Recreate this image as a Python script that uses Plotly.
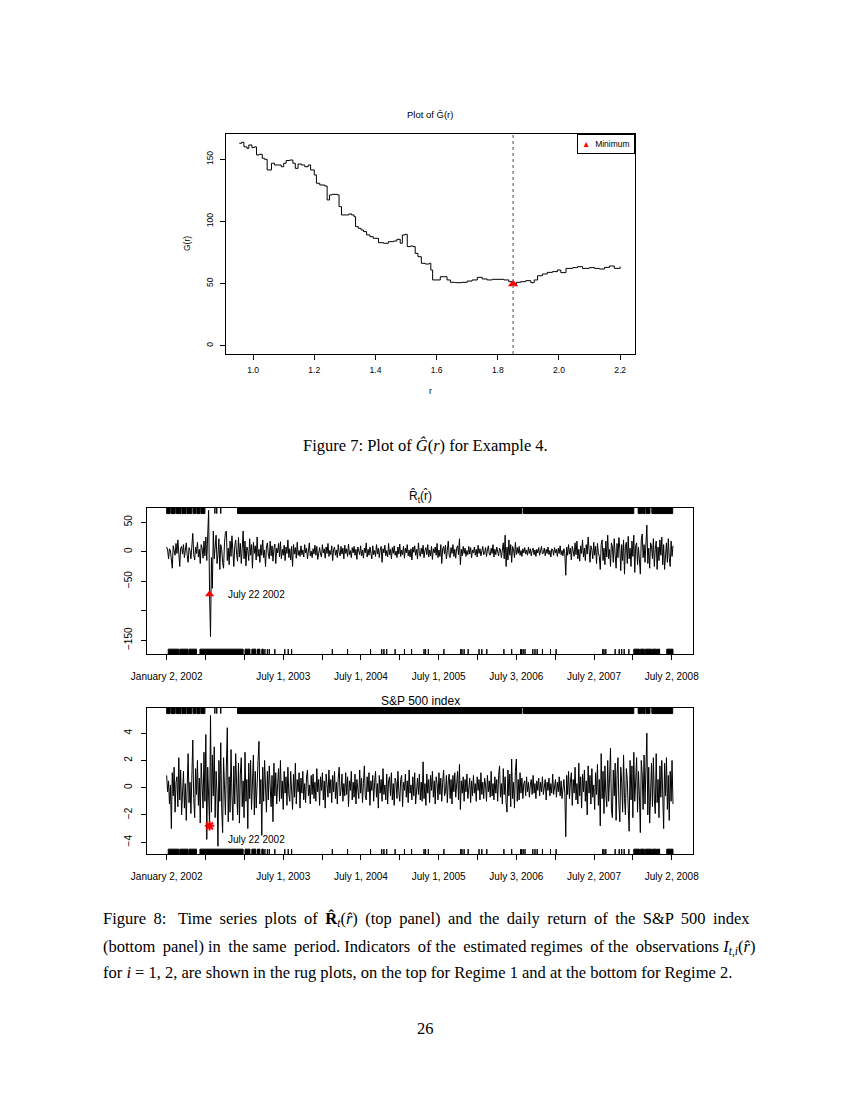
"""
Page 26 replica: plot of G-hat(r) (Figure 7) and the two regime time series (Figure 8).
"""
import plotly.graph_objects as go

PAGE_W, PAGE_H = 850, 1100

# ─── Figure 7: G-hat(r) against threshold r ──────────────────────────────
r_grid = [0.955, 0.963, 0.970, 0.980, 0.986, 0.996, 1.004, 1.011, 1.020, 1.030,
          1.037, 1.046, 1.060, 1.070, 1.081, 1.092, 1.100, 1.108, 1.120, 1.130,
          1.138, 1.147, 1.158, 1.169, 1.180, 1.188, 1.200, 1.207, 1.218, 1.234,
          1.242, 1.250, 1.258, 1.276, 1.281, 1.289, 1.305, 1.313, 1.322, 1.330,
          1.335, 1.344, 1.353, 1.361, 1.371, 1.382, 1.393, 1.410, 1.426, 1.442,
          1.459, 1.470, 1.481, 1.488, 1.497, 1.504, 1.514, 1.522, 1.530, 1.539,
          1.550, 1.563, 1.576, 1.581, 1.587, 1.601, 1.612, 1.623, 1.634, 1.645,
          1.661, 1.683, 1.700, 1.716, 1.733, 1.749, 1.765, 1.782, 1.804, 1.820,
          1.836, 1.850, 1.861, 1.875, 1.891, 1.908, 1.919, 1.930, 1.946, 1.962,
          1.979, 1.995, 2.006, 2.023, 2.045, 2.061, 2.077, 2.099, 2.116, 2.132,
          2.149, 2.165, 2.181, 2.200]
g_hat = [162.9, 163.7, 160.0, 158.8, 161.5, 159.4, 160.0, 153.5, 154.0, 150.8,
         150.0, 141.4, 146.8, 145.4, 145.4, 144.0, 146.8, 149.0, 149.4, 146.8,
         142.7, 146.2, 145.4, 144.0, 145.4, 141.4, 137.4, 130.7, 129.3, 128.5,
         117.3, 121.3, 121.8, 121.3, 111.9, 105.2, 105.2, 106.0, 105.2, 103.8,
         95.8, 94.4, 93.1, 91.8, 89.1, 87.7, 86.4, 82.9, 82.4, 83.7,
         84.2, 85.6, 82.4, 89.1, 89.6, 79.7, 80.2, 79.7, 74.3, 71.6,
         66.3, 65.7, 66.3, 60.9, 52.9, 52.9, 55.5, 55.5, 52.9, 51.0,
         50.7, 51.0, 52.0, 52.9, 55.0, 53.7, 52.9, 53.4, 53.4, 52.9,
         51.5, 49.6, 51.0, 51.5, 52.3, 50.7, 52.9, 56.3, 57.7, 59.0,
         59.6, 60.9, 58.8, 62.2, 62.8, 63.6, 62.2, 62.8, 62.2, 61.7,
         63.0, 64.1, 62.2, 63.6]
g_ticks = [1.0, 1.2, 1.4, 1.6, 1.8, 2.0, 2.2]
g_yticks = [0, 50, 100, 150]

# ─── Figure 8: one value every 3 trading days (Jan 2 2002 – Jul 2008) ────
obs_step = 3
r_hat_t = [
    8, 3, -12, 5, 2, -9, -28, 10, 4, -6, 14, -3, 20, -8, -25, 6,
    9, -4, 12, -10, 3, 15, -6, -18, 7, 2, -12, 11, 31, -5, -14, 8,
    -3, 16, -9, 4, -20, 12, 6, -11, 18, -7, 25, -15, 20, 70, -72, -144,
    -10, -62, 35, -12, 8, 28, -20, -5, 22, -30, 12, 4, -18, -28, 15, 33,
    35, -15, 6, -22, 18, -8, 27, -12, -25, 10, 20, -4, -16, 24, -9, 14,
    -20, 5, 35, -12, 18, -24, 8, 2, -15, 22, -6, 12, -28, 16, -3, 10,
    -14, 25, -8, 4, -18, 12, -6, 20, -10, 3, -25, 8, 15, -4, -12, 18,
    -7, 10, -16, 5, 13, -20, 6, -2, 14, -9, 17, -12, 4, -6, 11, -15,
    8, -3, 20, -10, 5, -14, 9, -25, 12, -4, 7, -11, 16, -6, 2, -8,
    10, -5, 3, -9, 12, -2, 6, -12, 8, 15, -7, 1, -10, 5, -4, 11,
    -6, 9, -13, 3, 7, -4, -9, 12, -2, 5, -11, 8, -3, 14, -8, 2,
    -5, 10, -15, 4, 8, -6, 3, -10, 12, -1, -7, 9, -4, 6, -12, 11,
    -3, 5, -8, 13, -5, 2, -10, 7, -2, 9, -6, 4, -13, 8, 1, -5,
    10, -7, 3, -11, 6, -2, 15, -9, 4, -6, 8, -3, -12, 10, -5, 2,
    -8, 12, -4, 6, -10, 3, 9, -18, 5, -2, 11, -7, 2, -9, 14, -5,
    4, -12, 7, -3, 10, -6, 1, -10, 8, -4, 13, -8, 3, -5, 9, -11,
    6, -2, 12, -7, 3, -9, 5, -14, 8, -1, 10, -6, 4, -12, 15, -3,
    -8, 6, -4, 11, -10, 2, 7, -5, 12, -9, 3, -7, 9, -13, 5, -2,
    8, -6, 14, -10, 3, -8, 12, -20, 5, 9, -4, 11, -12, 2, 18, -6,
    -10, 7, -3, 12, -8, 4, -11, 6, 10, -5, 22, -22, 4, -7, 9, -3,
    6, -8, 2, -5, 9, -4, 7, -10, 3, -2, 8, -6, 4, -9, 11, -3,
    5, -7, 2, 9, -5, -2, 7, -8, 3, 10, -4, -6, 6, -3, 12, -9,
    4, -5, 8, -2, -7, 6, 3, -10, 10, 15, -12, 28, -25, 8, -14, 20,
    -6, 12, -18, 9, 4, -10, 16, -5, 7, -3, 9, -6, 2, -8, 5, -2,
    7, -4, 3, -6, 8, -3, 5, -7, 2, 6, -5, 3, -8, 4, -2, 7,
    -6, 3, 9, -4, -2, 6, -7, 4, -3, 8, -5, 2, -9, 5, 3, -6,
    7, -2, 4, -8, 6, -3, 10, -5, 2, -7, 5, -3, -40, 8, -6, 12,
    -4, 6, -14, 9, 3, -8, 15, -5, 18, -12, 4, -16, 10, -3, 20, -9,
    6, -15, 12, -4, 25, -8, -18, 10, 3, -12, 16, -6, 9, -20, 14, -2,
    -8, -30, 12, 20, -15, 6, -22, 18, -9, 28, -12, 4, -25, 15, 8, -18,
    22, -6, -28, 14, -10, 24, 5, -32, 12, -15, 20, -38, 9, 16, -20, 26,
    -12, 6, -25, 18, -8, 28, -35, 10, 15, -22, 8, -14, -38, 20, 30, -10,
    12, -18, 25, 45, -20, 6, -28, 15, 10, -12, 22, -25, 4, 18, -30, 8,
    -15, 20, -6, 25, -22, 12, -30, 5, 15, -18, 22, -10, -25, 18, -8, 10,
]
sp500_ret = [
    0.9, -0.3, 0.5, -1.2, 0.2, -3.0, 1.1, -0.6, 1.5, -1.8, 0.4, 0.8, -1.4, 2.2, -0.9, 1.3,
    -2.0, 0.6, 1.2, -1.5, 0.3, -2.4, 1.0, 2.5, -1.1, 0.4, -1.9, 1.6, 3.5, -0.8, -2.2, 1.4,
    -0.5, 2.0, -1.3, 0.7, -2.6, 1.8, 0.2, -1.5, 2.6, -1.0, 3.9, -3.8, 1.5, -1.2, -2.8, 5.3,
    -1.8, 2.4, -0.6, 3.0, -2.2, 1.2, -0.4, -4.3, 2.0, -1.0, 3.3, -1.6, -3.3, 2.2, 0.5, -2.0,
    1.5, 4.4, -2.5, 0.8, -1.8, 2.8, -0.6, -2.4, 1.6, -1.2, 2.5, 0.4, -2.0, 1.8, -2.6, 1.0,
    2.2, -1.4, 0.5, -2.2, 2.6, -1.0, 0.6, -3.0, 1.8, -0.8, 2.0, -1.6, 0.3, 2.4, -2.0, 1.2,
    -1.5, 0.8, 2.0, 3.4, -1.2, 0.6, -3.5, 1.5, -1.0, 2.0, -0.5, -1.8, 1.2, -0.9, 1.6, 0.4,
    -1.4, 0.9, -2.5, 1.8, -0.6, 1.1, -1.2, 0.3, 1.4, -1.0, 2.0, -0.8, 0.5, -1.6, 1.2, -0.4,
    0.8, -1.3, 1.5, -0.5, -1.0, 1.2, 0.2, -1.6, 1.0, -0.7, 1.8, -1.2, 0.6, -0.3, 1.1, -1.5,
    0.7, -0.4, 1.2, -0.9, 0.3, -1.1, 0.8, 1.3, -0.6, 0.2, -1.2, 0.9, -0.5, 1.0, -0.8, 0.4,
    -1.0, 1.4, -0.3, 0.6, -1.3, 0.8, -0.2, 1.1, -0.9, 0.5, -1.5, 1.0, 0.2, -0.7, 1.3, -0.4,
    0.6, -1.1, 0.9, -0.3, 1.2, -0.8, 0.4, -1.2, 0.7, 1.5, -0.6, -0.2, 1.0, -1.0, 0.3, -0.6,
    1.1, -0.5, 0.8, -1.4, 0.5, -0.2, 1.2, -0.9, 0.4, -0.7, 1.0, -1.2, 0.6, 0.1, -0.8, 1.3,
    -0.4, 0.7, -1.1, 0.3, 1.6, -0.6, -0.9, 0.8, -0.3, 1.1, -1.3, 0.5, -0.2, 0.9, -1.0, 0.4,
    1.2, -0.7, 0.3, -1.5, 0.9, -0.4, 0.6, -1.0, 1.4, -0.5, 0.2, -0.9, 1.0, -1.2, 0.5, 0.8,
    -0.6, 1.1, -0.9, 0.3, -1.3, 0.7, 0.4, -0.8, 1.2, -0.3, -1.0, 0.6, 0.9, -1.4, 0.4, -0.2,
    1.0, -0.7, 0.5, -1.1, 1.3, -0.4, 0.2, -0.9, 0.8, -0.6, 1.1, -1.2, 0.3, 0.7, -0.5, 1.0,
    -0.9, 0.4, -1.0, 1.9, -0.8, 0.3, -1.3, 1.0, -0.4, 0.6, -1.1, 0.9, -0.2, 1.2, -0.7, 0.5,
    -1.2, 0.8, 0.3, -0.9, 1.1, -0.5, 0.7, -1.0, 0.4, 1.3, -0.6, -0.3, 0.9, -1.1, 0.5, 1.0,
    -0.8, 0.6, -1.2, 0.9, -0.3, 1.1, -0.7, 0.4, 1.2, -0.9, 1.7, -1.6, 0.5, -0.4, 0.8, -1.0,
    0.6, -0.3, 1.0, -0.8, 0.2, 0.7, -1.1, 0.5, -0.6, 0.9, -0.4, 0.3, -1.0, 0.8, -0.2, 0.6,
    -0.9, 1.1, -0.5, 0.4, -0.8, 0.7, 0.2, -1.0, 0.9, -0.3, 0.5, -0.7, 1.2, -0.6, 0.3, -0.9,
    0.8, -0.4, 0.6, -1.0, 0.9, 1.6, -0.7, 0.3, -1.2, 1.4, -0.5, 0.8, -1.1, -1.8, 1.3, -0.6,
    1.0, -1.4, 2.1, -0.8, 0.4, -1.5, 1.2, 2.1, -1.0, 0.6, -0.9, 1.1, -0.4, 0.7, -0.8, 0.3,
    0.5, -0.6, 0.8, -0.3, 0.4, -0.7, 0.2, 0.6, -0.5, 0.9, -0.4, 0.3, -0.8, 0.5, -0.2, 0.7,
    -0.6, 0.4, -0.3, 0.8, -0.5, 0.2, 0.6, -0.9, 0.4, -0.2, 0.7, -0.6, 0.3, -0.4, 1.0, -0.5,
    0.2, 0.6, -0.7, 0.4, -0.3, 0.8, -0.6, 0.5, -0.8, 0.3, 0.6, -0.4, -3.6, 0.9, -0.5, 1.2,
    -0.8, 0.4, 1.1, -1.3, 0.6, -0.4, 1.5, -0.9, 0.3, -1.2, 1.8, -0.6, 0.8, -1.5, 1.0, -0.3,
    1.3, -1.0, 0.5, -2.0, 1.6, -0.4, 0.9, -1.2, 1.4, -0.7, 0.2, -1.6, 1.1, -0.5, 1.7, -1.3,
    0.6, -2.8, 2.5, -0.8, 1.2, -1.9, 1.6, -0.5, -1.4, 2.0, -1.0, 0.7, 2.9, -1.6, -2.2, 1.3,
    -0.6, 1.8, -2.4, 0.9, 2.2, -1.2, -2.5, 1.5, 0.4, -1.8, 2.4, -0.8, -2.0, 1.4, 0.6, -1.5,
    -3.2, 2.0, -0.9, 1.6, -2.2, 2.6, -1.0, 0.5, 2.2, -1.8, 1.2, -0.6, -3.3, 2.0, 1.0, -1.6,
    2.4, -1.2, 0.8, 4.0, -2.0, 1.5, -2.6, 0.7, 1.8, -1.4, 2.2, -0.8, -1.9, 2.5, -1.1, 0.6,
    -2.2, 1.6, -0.7, 2.0, -1.5, -3.0, 1.8, -0.6, 2.2, -1.6, 0.9, -2.4, 1.2, -1.0, 2.0, -1.2,
]
july22_k = 46          # position of July 22 2002 in the lists above

date_tickvals = [1 + 125 * k for k in range(14)]
date_ticktext = ["January 2, 2002", "", "", "July 1, 2003", "", "July 1, 2004", "",
                 "July 1, 2005", "", "July 3, 2006", "", "July 2, 2007", "", "July 2, 2008"]

# regime indicator runs (first obs, last obs) for the rug plots
regime1_runs = [(1, 12), (15, 28), (31, 47), (50, 63), (66, 82), (86, 95), (98, 108),
                (111, 124), (156, 156), (162, 162), (175, 175), (229, 1144),
                (1149, 1504), (1518, 1529), (1532, 1540), (1543, 1556), (1562, 1629)]
regime2_runs = [(6, 40), (43, 70), (73, 97), (108, 247), (253, 269), (275, 288),
                (293, 301), (307, 312), (317, 317), (325, 325), (331, 331), (349, 349),
                (381, 381), (392, 392), (403, 403), (534, 534), (583, 583), (657, 657),
                (693, 693), (700, 700), (709, 709), (736, 736), (766, 766), (789, 789),
                (829, 829), (834, 834), (843, 843), (893, 893), (947, 947), (951, 951),
                (958, 958), (971, 971), (1006, 1006), (1015, 1015), (1031, 1031),
                (1086, 1086), (1111, 1111), (1140, 1140), (1143, 1143), (1148, 1148),
                (1154, 1154), (1179, 1179), (1186, 1186), (1193, 1193), (1210, 1210),
                (1236, 1236), (1254, 1254), (1404, 1404), (1408, 1408), (1414, 1414),
                (1444, 1444), (1457, 1457), (1465, 1465), (1473, 1473), (1488, 1488),
                (1504, 1522), (1525, 1538), (1541, 1561), (1564, 1577), (1580, 1587),
                (1610, 1630)]


def dom_x(left, right):
    return [left / PAGE_W, right / PAGE_W]


def dom_y(top, bottom):
    return [1 - bottom / PAGE_H, 1 - top / PAGE_H]


def px(x, y):
    return x / PAGE_W, 1 - y / PAGE_H


SANS = "Liberation Sans, Arial, sans-serif"
SERIF = "Liberation Serif, Times New Roman, serif"

obs_r = [1 + obs_step * k for k in range(len(r_hat_t))]
obs_sp = [1 + obs_step * k for k in range(len(sp500_ret))]
i_min = min(range(len(g_hat)), key=g_hat.__getitem__)

fig = go.Figure()

# Figure 7
fig.add_trace(go.Scatter(x=r_grid, y=g_hat, mode="lines", line_shape="hv",
                         line=dict(color="black", width=1), xaxis="x", yaxis="y"))
fig.add_trace(go.Scatter(x=[r_grid[i_min]], y=[g_hat[i_min]], mode="markers",
                         marker=dict(symbol="triangle-up", color="red", size=9),
                         xaxis="x", yaxis="y"))

# Figure 8, top and bottom panels
fig.add_trace(go.Scatter(x=obs_r, y=r_hat_t, mode="lines",
                         line=dict(color="black", width=1.0), xaxis="x2", yaxis="y2"))
fig.add_trace(go.Scatter(x=[obs_r[july22_k]], y=[r_hat_t[july22_k]], mode="markers",
                         marker=dict(symbol="triangle-up", color="red", size=8),
                         xaxis="x2", yaxis="y2"))
fig.add_trace(go.Scatter(x=obs_sp, y=sp500_ret, mode="lines",
                         line=dict(color="black", width=1.0), xaxis="x3", yaxis="y3"))
fig.add_trace(go.Scatter(x=[obs_sp[july22_k]], y=[sp500_ret[july22_k]], mode="markers",
                         marker=dict(symbol="asterisk-open", size=8, color="red",
                                     line=dict(color="red", width=2)),
                         xaxis="x3", yaxis="y3"))

shapes = [dict(type="line", xref="x", yref="y domain", x0=r_grid[i_min], x1=r_grid[i_min],
               y0=0, y1=1, line=dict(color="#777777", width=1.3, dash="dot"))]
for ax in ("2", "3"):
    for a, b in regime1_runs:
        shapes.append(dict(type="rect", xref="x" + ax, yref="y" + ax + " domain",
                           x0=a, x1=b, y0=0.96, y1=1.0, fillcolor="black",
                           line=dict(color="black", width=1)))
    for a, b in regime2_runs:
        shapes.append(dict(type="rect", xref="x" + ax, yref="y" + ax + " domain",
                           x0=a, x1=b, y0=0.0, y1=0.035, fillcolor="black",
                           line=dict(color="black", width=1)))

axis_common = dict(showline=True, mirror=True, linecolor="black", linewidth=1,
                   ticks="outside", ticklen=5, tickwidth=1, tickcolor="black",
                   showgrid=False, zeroline=False, automargin=False)

small = dict(family=SANS, size=8.5, color="black")
mid = dict(family=SANS, size=10, color="black")

fig.update_layout(
    width=PAGE_W, height=PAGE_H,
    margin=dict(l=0, r=0, t=0, b=0, pad=0),
    paper_bgcolor="white", plot_bgcolor="white",
    showlegend=False,
    xaxis=dict(axis_common, domain=dom_x(225.7, 635.3), range=[0.9104, 2.2496],
               tickvals=g_ticks, ticktext=[f"{v:.1f}" for v in g_ticks],
               tickfont=small, anchor="y", ticklabelstandoff=3),
    yaxis=dict(axis_common, domain=dom_y(134.3, 354), range=[-6.7, 170.1],
               tickvals=g_yticks, tickangle=-90, tickfont=small, anchor="x",
               ticklabelstandoff=3),
    xaxis2=dict(axis_common, domain=dom_x(146.7, 693.3), range=[-63.3, 1695.4],
                tickvals=date_tickvals, ticktext=date_ticktext, tickfont=mid,
                anchor="y2", ticklabelstandoff=8),
    yaxis2=dict(axis_common, domain=dom_y(507.7, 654.3), range=[-173.9, 74.6],
                tickvals=[50, 0, -50, -100, -150],
                ticktext=["50", "0", "\u221250", "", "\u2212150"],
                tickangle=-90, tickfont=mid, anchor="x2", ticklabelstandoff=5),
    xaxis3=dict(axis_common, domain=dom_x(146.7, 693.3), range=[-63.3, 1695.4],
                tickvals=date_tickvals, ticktext=date_ticktext, tickfont=mid,
                anchor="y3", ticklabelstandoff=8),
    yaxis3=dict(axis_common, domain=dom_y(707.7, 854.3), range=[-4.89, 5.87],
                tickvals=[4, 2, 0, -2, -4],
                ticktext=["4", "2", "0", "\u22122", "\u22124"],
                tickangle=-90, tickfont=mid, anchor="x3", ticklabelstandoff=5),
    shapes=shapes,
)


def note(x, y, text, size, family=SANS, **kw):
    ax, ay = px(x, y)
    fig.add_annotation(x=ax, y=ay, xref="paper", yref="paper", text=text,
                       showarrow=False, font=dict(family=family, size=size, color="black"),
                       yanchor=kw.pop("yanchor", "middle"), xanchor=kw.pop("xanchor", "center"),
                       **kw)


# Figure 7 texts
note(430, 114, "Plot of \u011c(r)", 9.5)
note(187, 244, "G(r)", 8.5, textangle=-90)
note(430, 391, "r", 8.5)
fig.add_annotation(x=635.3 / PAGE_W, y=1 - 134.3 / PAGE_H, xref="paper", yref="paper",
                   xanchor="right", yanchor="top", showarrow=False,
                   text="<span style='color:red'>\u25b2</span>  Minimum",
                   font=dict(family=SANS, size=8.5, color="black"),
                   bordercolor="black", borderwidth=1, borderpad=4, bgcolor="white")
note(425, 445, "Figure 7: Plot of <i>\u011c</i>(<i>r</i>) for Example 4.", 16.5, family=SERIF)

# Figure 8 texts
note(420, 496, "R\u0302<sub>t</sub>(r\u0302)", 12)
note(420, 701, "S&P 500 index", 12)
fig.add_annotation(x=obs_r[july22_k] + 54, y=r_hat_t[july22_k], xref="x2", yref="y2",
                   text="July 22 2002", showarrow=False, xanchor="left",
                   font=dict(family=SANS, size=10, color="black"))
fig.add_annotation(x=obs_sp[july22_k] + 54, y=sp500_ret[july22_k] - 1.0, xref="x3", yref="y3",
                   text="July 22 2002", showarrow=False, xanchor="left",
                   font=dict(family=SANS, size=10, color="black"))


def spread(line, wide_every):
    # the paper justifies these lines: add a thin space to some word gaps
    words = line.split(" ")
    out = words[0]
    for i, w in enumerate(words[1:]):
        out += (" \u2009" if wide_every and i % wide_every == 0 else " ") + w
    return out


cap = [
    ("Figure 8:\u00a0 Time series plots of <b>R\u0302</b><sub><i>t</i></sub>(<i>r\u0302</i>) "
     "(top panel) and the daily return of the S&P 500 index", 1),
    ("(bottom panel) in the same period. Indicators of the estimated regimes of the "
     "observations <i>I</i><sub><i>t,i</i></sub>(<i>r\u0302</i>)", 2),
    ("for <i>i</i> = 1, 2, are shown in the rug plots, on the top for Regime 1 and at "
     "the bottom for Regime 2.", 0),
]
for (line, every), y in zip(cap, [919, 947, 972]):
    note(101, y, spread(line, every), 16.5, family=SERIF, xanchor="left")
note(425, 1028, "26", 16.5, family=SERIF)

fig.write_html("out.html", post_script="document.body.style.margin = '0';",
               config={"displayModeBar": False})
